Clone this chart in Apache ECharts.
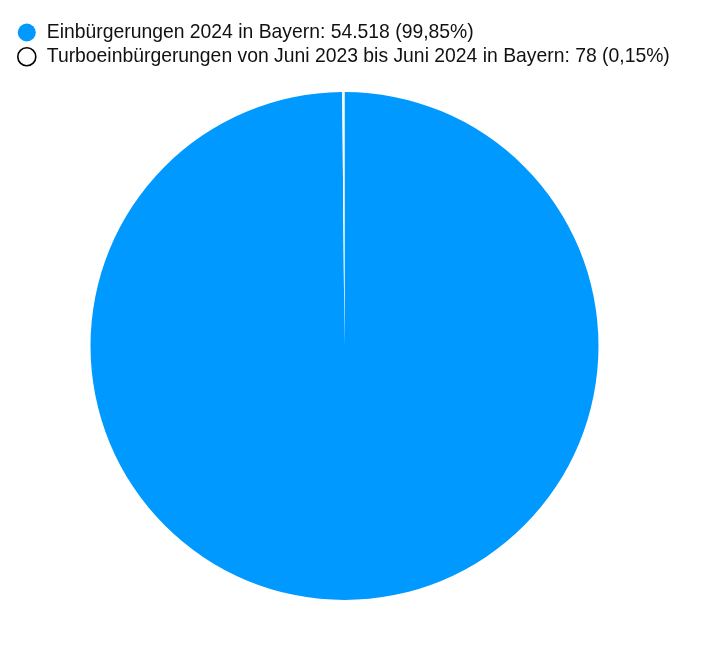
<!DOCTYPE html>
<html><head><meta charset="utf-8">
<script src="https://cdn.jsdelivr.net/npm/echarts@6/dist/echarts.min.js"></script>
<style>html,body{margin:0;padding:0;background:#fff}#c{width:720px;height:650px}</style>
</head><body><div id="c"></div>
<script>
const categories = ["Einbürgerungen 2024 in Bayern: 54.518 (99,85%)", "Turboeinbürgerungen von Juni 2023 bis Juni 2024 in Bayern: 78 (0,15%)"];
const values = [54518, 78];
const colors = ["#0099ff", "#ffffff"];

const chart = echarts.init(document.getElementById('c'), null, {renderer: 'canvas'});
chart.setOption({
  animation: false,
  legend: {
    orient: 'vertical',
    left: 12,
    top: 18,
    itemWidth: 18,
    itemHeight: 18,
    itemGap: 5,
    icon: 'circle',
    textStyle: {fontFamily: 'Liberation Sans, Arial, sans-serif', fontSize: 19.35, lineHeight: 18, color: '#111', padding: [0,0,0,6]},
    data: [
      {name: categories[0], itemStyle: {color: colors[0], borderWidth: 0}},
      {name: categories[1], itemStyle: {color: '#ffffff', borderColor: '#000000', borderWidth: 1.6}}
    ]
  },
  series: [{
    type: 'pie',
    center: [344.5, 346],
    radius: [0, 254],
    startAngle: 90,
    clockwise: true,
    label: {show: false},
    labelLine: {show: false},
    emphasis: {disabled: true},
    data: categories.map((n, i) => ({name: n, value: values[i], itemStyle: {color: colors[i], borderWidth: 0}}))
  }]
});
</script></body></html>
